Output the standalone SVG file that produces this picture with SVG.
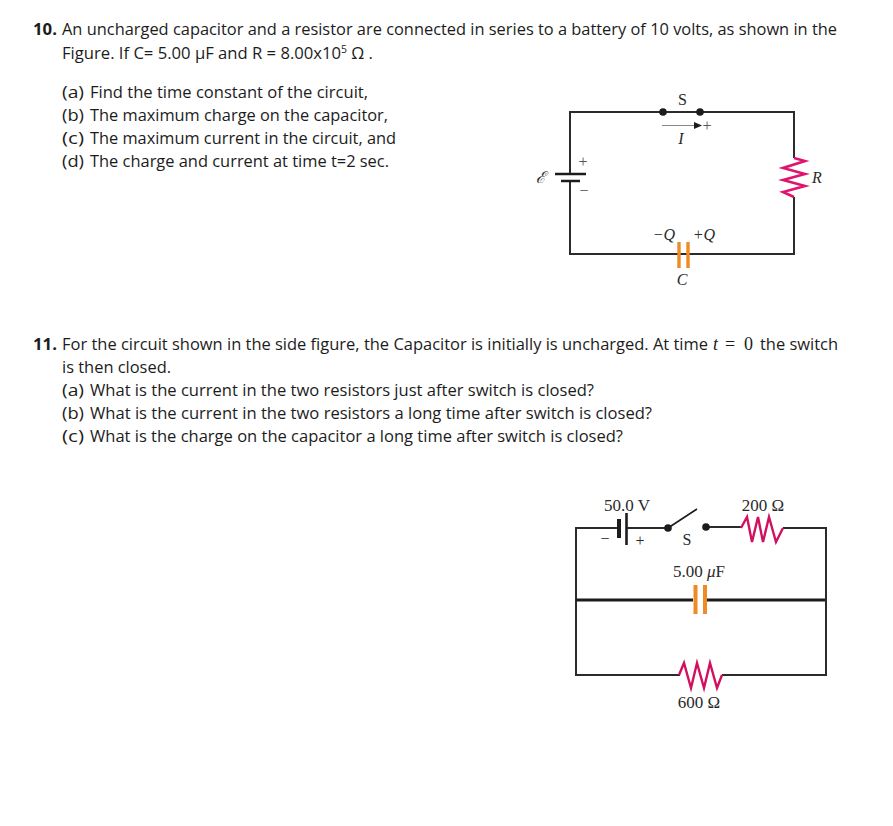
<svg xmlns="http://www.w3.org/2000/svg" width="893" height="826" viewBox="0 0 893 826">
<style>
.t{font-family:"Open Sans","Noto Sans","Liberation Sans",sans-serif;font-size:16px;fill:#1c1c1c}
.b{font-weight:700}
.s{font-family:"Liberation Serif","DejaVu Serif",serif;font-size:16px;fill:#2a2a2a}
.l{font-size:17px}
.m{font-family:"Liberation Serif","DejaVu Serif",serif;font-size:18px;fill:#1c1c1c}
.g{fill:#555}
.i{font-style:italic}
.w{fill:none;stroke:#2b2b2b;stroke-width:2}
.k{fill:none;stroke:#1c1c1c;stroke-width:2.400}
.r{fill:none;stroke:#e0146e;stroke-width:2.600}
.r2{fill:none;stroke:#d3105f;stroke-width:2.400}
.c{fill:none;stroke:#f08a24;stroke-width:3.400}
</style>
<rect width="893" height="826" fill="#fff"/>
<g id="text-q10">
<text class="t b" x="33" y="35" textLength="24" lengthAdjust="spacingAndGlyphs">10.</text>
<text class="t" x="62" y="35" textLength="775" lengthAdjust="spacingAndGlyphs">An uncharged capacitor and a resistor are connected in series to a battery of 10 volts, as shown in the</text>
<text class="t" x="62" y="59" textLength="311" lengthAdjust="spacingAndGlyphs">Figure. If C= 5.00 μF and R = 8.00x10<tspan font-size="10" dy="-6">5</tspan><tspan dy="6"> Ω .</tspan></text>
<text class="t" x="62" y="98" textLength="22" lengthAdjust="spacingAndGlyphs">(a)</text>
<text class="t" x="90" y="98" textLength="278" lengthAdjust="spacingAndGlyphs">Find the time constant of the circuit,</text>
<text class="t" x="62" y="121" textLength="22" lengthAdjust="spacingAndGlyphs">(b)</text>
<text class="t" x="90" y="121" textLength="298" lengthAdjust="spacingAndGlyphs">The maximum charge on the capacitor,</text>
<text class="t" x="62" y="144" textLength="22" lengthAdjust="spacingAndGlyphs">(c)</text>
<text class="t" x="90" y="144" textLength="306" lengthAdjust="spacingAndGlyphs">The maximum current in the circuit, and</text>
<text class="t" x="62" y="167" textLength="22" lengthAdjust="spacingAndGlyphs">(d)</text>
<text class="t" x="90" y="167" textLength="299" lengthAdjust="spacingAndGlyphs">The charge and current at time t=2 sec.</text>
</g>
<g id="text-q11">
<text class="t b" x="33" y="350" textLength="24" lengthAdjust="spacingAndGlyphs">11.</text>
<text class="t" x="62" y="350" textLength="646" lengthAdjust="spacingAndGlyphs">For the circuit shown in the side figure, the Capacitor is initially is uncharged. At time</text>
<text class="m i" x="713" y="350">t</text>
<text class="m" x="725" y="350">=</text>
<text class="m" x="744" y="350">0</text>
<text class="t" x="760" y="350" textLength="78" lengthAdjust="spacingAndGlyphs">the switch</text>
<text class="t" x="62" y="373" textLength="109" lengthAdjust="spacingAndGlyphs">is then closed.</text>
<text class="t" x="62" y="396" textLength="22" lengthAdjust="spacingAndGlyphs">(a)</text>
<text class="t" x="90" y="396" textLength="504" lengthAdjust="spacingAndGlyphs">What is the current in the two resistors just after switch is closed?</text>
<text class="t" x="62" y="419" textLength="22" lengthAdjust="spacingAndGlyphs">(b)</text>
<text class="t" x="90" y="419" textLength="562" lengthAdjust="spacingAndGlyphs">What is the current in the two resistors a long time after switch is closed?</text>
<text class="t" x="62" y="442" textLength="22" lengthAdjust="spacingAndGlyphs">(c)</text>
<text class="t" x="90" y="442" textLength="533" lengthAdjust="spacingAndGlyphs">What is the charge on the capacitor a long time after switch is closed?</text>
</g>
<g id="connectors">
<path class="w" d="M570 174V112H794V158M794 197V254H570V181"/>
<path d="M663 112H700" class="w"/>
<path d="M662 125.500H695" stroke="#888" stroke-width="1.200" fill="none"/>
<path class="w" d="M619 528H576V675H680M722 675H826V528H783M626 528H668M706 527H741"/>
<path stroke="#1c1c1c" stroke-width="3" fill="none" d="M576 600H693M707 600H825"/>
<path d="M668 528L697 509" stroke="#1c1c1c" stroke-width="1.600" fill="none"/>
</g>
<g id="switch-s1"><circle cx="663" cy="112" r="3.800" fill="#1c1c1c"/><circle cx="700" cy="112" r="3.800" fill="#1c1c1c"/><text class="s" x="682.500" y="105" text-anchor="middle">S</text></g>
<g id="current-i"><path d="M694 122L702 125.500L694 129Z" fill="#1c1c1c"/><text class="s g" x="707" y="131" text-anchor="middle">+</text><text class="s i" x="681" y="144" text-anchor="middle">I</text></g>
<g id="battery-e"><path class="k" d="M555 174H586M561 181H580"/><text class="s g" x="583" y="167" text-anchor="middle">+</text><text class="s g" x="584" y="196" text-anchor="middle">−</text><text class="s i" x="541" y="183" text-anchor="middle" font-size="17">ℰ</text></g>
<g id="resistor-r"><path class="r" d="M794 158L805 161L783 168L805 174L783 180L805 186L783 192L794 197"/><text class="s i" x="817" y="183" text-anchor="middle">R</text></g>
<g id="capacitor-c"><path class="c" d="M679 242V268M688 242V268"/><text class="s i" x="664" y="240" text-anchor="middle">−Q</text><text class="s i" x="704" y="240" text-anchor="middle">+Q</text><text class="s i" x="682" y="285" text-anchor="middle">C</text></g>
<g id="battery-50v"><path d="M619 519V538" stroke="#1c1c1c" stroke-width="4" fill="none"/><path d="M626.500 513V545" stroke="#1c1c1c" stroke-width="2.600" fill="none"/><text class="s l" x="627" y="511" text-anchor="middle">50.0 V</text><text class="s" x="605" y="544" text-anchor="middle">−</text><text class="s" x="640" y="546" text-anchor="middle">+</text></g>
<g id="switch-s2"><circle cx="668" cy="528" r="3.800" fill="#1c1c1c"/><circle cx="706" cy="527" r="3.800" fill="#1c1c1c"/><text class="s" x="687" y="545" text-anchor="middle">S</text></g>
<g id="resistor-200"><path class="r2" d="M741 528L747 517L752 542L758 517L763 542L769 517L776 542L783 528"/><text class="s l" x="763" y="511" text-anchor="middle">200 Ω</text></g>
<g id="capacitor-5uf"><path d="M695.500 585V614M705 585V614" stroke="#f08a24" stroke-width="4" fill="none"/><text class="s l" x="699" y="577" text-anchor="middle">5.00 <tspan class="i">μ</tspan>F</text></g>
<g id="resistor-600"><path class="r2" d="M679 675L684 663L691 688L697 663L704 688L710 663L717 688L722 675"/><text class="s l" x="699" y="708" text-anchor="middle">600 Ω</text></g>
</svg>
